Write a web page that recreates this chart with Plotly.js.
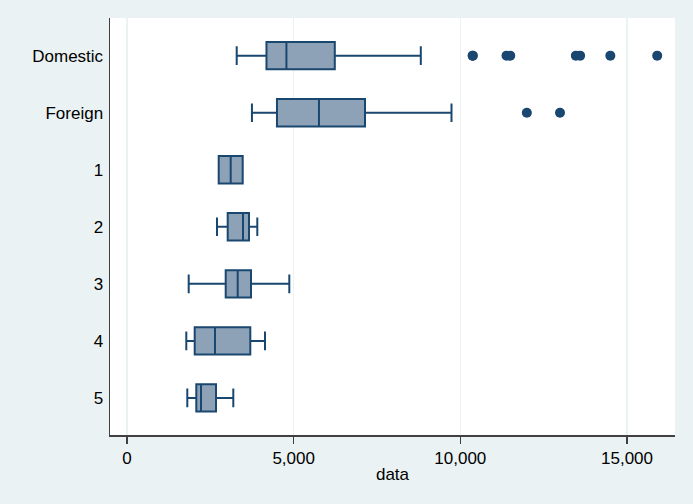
<!DOCTYPE html>
<html>
<head>
<meta charset="utf-8">
<script src="https://cdn.plot.ly/plotly-3.0.1.min.js"></script>
<style>html,body{margin:0;padding:0;background:#EAF2F3;}#chart{width:693px;height:504px;}</style>
</head>
<body>
<div id="chart"></div>
<script>
var categories = ['Domestic', 'Foreign', '1', '2', '3', '4', '5'];
var lowerWhisker = [3291, 3748, 2751, 2700, 1851, 1779, 1809];
var q1Values = [4184, 4499, 2751, 3021, 2961, 2031, 2079];
var medianValues = [4782.5, 5759, 3111, 3480, 3321, 2640, 2220];
var q3Values = [6234, 7140, 3471, 3660, 3720, 3699, 2670];
var upperWhisker = [8814, 9735, 3471, 3909, 4869, 4140, 3189];

var outlierGroups = ['Domestic', 'Domestic', 'Domestic', 'Domestic', 'Domestic', 'Domestic', 'Domestic', 'Domestic', 'Foreign', 'Foreign'];
var outlierValues = [10371, 10372, 11385, 11497, 13466, 13594, 14500, 15906, 11995, 12990];

var xTickValues = [0, 5000, 10000, 15000];
var xTickLabels = ['0', '5,000', '10,000', '15,000'];

var navy = '#1A476F';

var boxTrace = {
  type: 'box',
  orientation: 'h',
  y: categories,
  q1: q1Values,
  median: medianValues,
  q3: q3Values,
  lowerfence: lowerWhisker,
  upperfence: upperWhisker,
  boxpoints: false,
  fillcolor: '#8DA2B7',
  line: {color: navy, width: 2},
  width: 0.48,
  whiskerwidth: 0.68,
  hoverinfo: 'skip',
  showlegend: false
};

var outlierTrace = {
  type: 'scatter',
  mode: 'markers',
  x: outlierValues,
  y: outlierGroups,
  marker: {color: navy, size: 10},
  hoverinfo: 'skip',
  showlegend: false
};

var layout = {
  width: 693,
  height: 504,
  paper_bgcolor: '#EAF2F3',
  plot_bgcolor: '#FFFFFF',
  margin: {l: 110, r: 18, t: 18, b: 69},
  font: {family: 'Liberation Sans, Arial, sans-serif', size: 17, color: '#000000'},
  showlegend: false,
  xaxis: {
    range: [-510, 16440],
    tickmode: 'array',
    tickvals: xTickValues,
    ticktext: xTickLabels,
    ticks: 'outside',
    ticklen: 7,
    tickwidth: 1.5,
    tickcolor: '#404040',
    showgrid: true,
    gridcolor: '#EAF2F3',
    gridwidth: 1.5,
    zeroline: false,
    showline: true,
    linecolor: '#404040',
    linewidth: 1.5,
    tickfont: {size: 17, color: '#000000'},
    title: {text: 'data', font: {size: 17, color: '#000000'}, standoff: 1}
  },
  yaxis: {
    type: 'category',
    categoryorder: 'array',
    categoryarray: categories,
    range: [6.65, -0.66],
    showgrid: false,
    zeroline: false,
    showline: true,
    linecolor: '#404040',
    linewidth: 1.5,
    ticks: '',
    ticklabelstandoff: 2,
    tickfont: {size: 17, color: '#000000'}
  }
};

Plotly.newPlot('chart', [boxTrace, outlierTrace], layout, {displayModeBar: false, staticPlot: true});
</script>
</body>
</html>
